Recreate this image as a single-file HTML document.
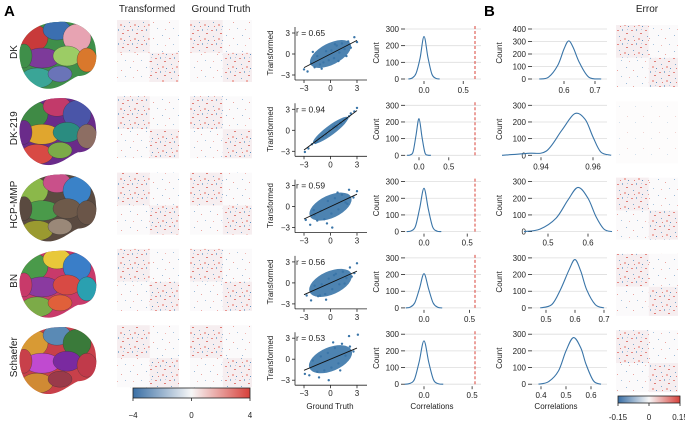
<!DOCTYPE html>
<html><head><meta charset="utf-8"><style>
html,body{margin:0;padding:0;background:#fff;}
svg{display:block;font-family:"Liberation Sans",sans-serif;}
</style></head><body>
<svg id="fig" width="685" height="426" viewBox="0 0 685 426" xmlns="http://www.w3.org/2000/svg">
<defs>
<linearGradient id="cbA" x1="0" x2="1" y1="0" y2="0"><stop offset="0" stop-color="#3a6fa5"/><stop offset="0.5" stop-color="#f7f7f7"/><stop offset="1" stop-color="#d7403a"/></linearGradient>
<pattern id="dense" width="14" height="14" patternUnits="userSpaceOnUse">
<rect width="14" height="14" fill="#f6eef0"/>
<rect x="1" y="2" width="2" height="1" fill="#e58a85"/><rect x="6" y="1" width="1" height="2" fill="#8fb3d3"/>
<rect x="10" y="5" width="2" height="1" fill="#e07c76"/><rect x="3" y="8" width="1" height="1" fill="#7ea7cc"/>
<rect x="8" y="10" width="2" height="2" fill="#efb0ab"/><rect x="12" y="12" width="1" height="1" fill="#5f92c1"/>
<rect x="4" y="12" width="1" height="1" fill="#e47f78"/><rect x="11" y="1" width="1" height="1" fill="#b6cde3"/>
</pattern>
<pattern id="sparse" width="16" height="16" patternUnits="userSpaceOnUse">
<rect width="16" height="16" fill="#fbfafb"/>
<rect x="2" y="3" width="1" height="1" fill="#9bbad8"/><rect x="9" y="6" width="1" height="1" fill="#eba39e"/>
<rect x="13" y="12" width="1" height="1" fill="#a9c4de"/><rect x="5" y="13" width="1" height="1" fill="#f0b6b1"/>
</pattern>
<pattern id="faint" width="16" height="16" patternUnits="userSpaceOnUse">
<rect width="16" height="16" fill="#fdfcfc"/>
<rect x="3" y="4" width="1" height="1" fill="#f1d3d1"/><rect x="11" y="10" width="1" height="1" fill="#d3e0ec"/>
</pattern>
<clipPath id="brainClip"><path d="M8,42 C4,20 24,4 46,4 C66,2 84,14 84,34 C86,50 77,58 66,58 C56,62 46,74 30,70 C18,66 10,56 8,42 Z"/></clipPath>
</defs>
<g id="root"></g>
</svg>
<script>
// ---- data ----
const rowNames = ["DK","DK-219","HCP-MMP","BN","Schaefer"];
const rValues = [0.65,0.94,0.59,0.56,0.53];
const scatterTicks = [-3,0,3];
const nullGrid = [-0.2,-0.15,-0.1,-0.05,0,0.05,0.1,0.15,0.2];
const nullCounts = [
 [0,6,35,125,255,130,30,4,0],
 [0,2,20,120,220,110,15,1,0],
 [0,4,30,140,260,135,28,3,0],
 [0,5,32,115,205,115,30,4,0],
 [0,4,28,135,260,130,25,3,0]
];
const nullTicks = [0.0,0.5];
const countTicksA = [0,100,200,300];
const bGrid = [
 [0.52,0.55,0.58,0.6,0.615,0.63,0.65,0.68,0.72],
 [0.925,0.935,0.942,0.948,0.953,0.957,0.96,0.963,0.967],
 [0.44,0.48,0.52,0.55,0.575,0.6,0.62,0.64,0.66],
 [0.48,0.52,0.55,0.58,0.6,0.62,0.64,0.67,0.7],
 [0.39,0.43,0.47,0.5,0.53,0.56,0.58,0.61,0.64]
];
const bCounts = [
 [0,15,110,240,305,250,130,15,0],
 [0,12,25,150,250,215,110,20,0],
 [0,15,80,190,265,200,90,15,0],
 [0,20,110,230,290,220,110,20,0],
 [0,15,80,200,280,215,120,20,0]
];
const bTicks = [[0.6,0.7],[0.94,0.96],[0.5,0.6],[0.5,0.6,0.7],[0.4,0.5,0.6]];
const bCountTicks = [[0,100,200,300,400],[0,100,200,300],[0,100,200,300],[0,100,200,300],[0,100,200,300]];
const scatterX = [
 [-3,-2.6,-2.2,-1.8,-1.5,-1.2,-0.8,-0.5,-0.2,0.1,0.4,0.7,1,1.3,1.6,2,2.3,2.7,3,-1,0.5,1.8,-2,0.9],
 [-2.9,-2.5,-2.1,-1.7,-1.3,-0.9,-0.5,-0.1,0.3,0.7,1.1,1.5,1.9,2.3,2.7,3,-1.5,0.5,1.2,2.1],
 [-2.8,-2.3,-1.9,-1.5,-1.1,-0.7,-0.3,0.1,0.5,0.9,1.3,1.7,2.1,2.6,3,-0.4,0.8,-1.8,1.9,0.2],
 [-2.7,-2.2,-1.8,-1.4,-1,-0.6,-0.2,0.2,0.6,1,1.4,1.8,2.2,2.7,3,-1.2,0.4,1.6,-0.5,2.4],
 [-2.9,-2.4,-2,-1.5,-1.1,-0.7,-0.3,0.1,0.5,0.9,1.3,1.7,2.1,2.6,3.1,-1.3,0.3,1.1,-0.2,2.2]
];
const scatterY = [
 [-2.2,-2.5,-1.3,-1.9,-0.3,-1.5,-1.2,0.4,-0.9,0.5,-0.6,1.2,0.2,1.5,0.7,1.8,0.9,2.4,1.7,-2.1,1.4,-0.3,0.3,-1],
 [-3.1,-2.6,-2,-1.8,-1.2,-0.9,-0.6,0,0.4,0.5,1.1,1.4,1.7,2.4,2.7,3.2,-1.6,0.6,1,2],
 [-1.9,-2.6,-0.5,-2,-0.6,-1.8,0.8,-1,1.2,-0.4,1.7,0.6,2.4,1.3,2.2,-2.4,2,-1.2,0.4,-3],
 [-1.8,-2.5,-0.4,-1.9,-0.2,-1.6,0.6,-0.9,1.3,-0.2,1.6,0.7,2.2,1.4,2.8,-1.8,1.1,-0.1,-2.4,0.9],
 [-2.1,-2.3,-0.2,-1.8,0.4,-1.6,0.9,-1.2,1.6,-0.6,2.2,0.5,3.3,1.1,3.5,-2.6,2.4,-1.6,-3,1.8]
];
const colorbarTicks = [-4,0,4];
const errorTicks = ["-0.15","0","0.15"];
const brainPalettes = [
 ["#3f8f4a","#c83a3a","#3b6fb0","#e7a3b2","#7d3a9a","#9ccc65","#d9782c","#3aa597","#6a74b8"],
 ["#6a2b8a","#3f8a45","#c23a6a","#4a55a8","#e0a62e","#2a8c80","#8d6e63","#d84a44","#7cab48"],
 ["#5a4a40","#8bb84a","#c9508a","#3a82c8","#4a9a4a","#6e5a4a","#6a5548","#9a9a30","#9a8878"],
 ["#c83a6a","#4a9a4a","#e8c83a","#3a7ec8","#8a3aa0","#d84a44","#2aa0b0","#7cab48","#e0603a"],
 ["#c8404a","#d89a34","#5a8ab5","#3a7a3a","#c04ad0","#7a2aa0","#c03a4a","#d08a34","#9a3a4a"]
];

// ---- helpers ----
const NS="http://www.w3.org/2000/svg";
const root=document.getElementById('root');
function mk(tag,attrs,parent){const e=document.createElementNS(NS,tag);for(const k in attrs)e.setAttribute(k,attrs[k]);(parent||root).appendChild(e);return e;}
function txt(s,x,y,size,anchor,parent,extra){const t=mk('text',Object.assign({x:x,y:y,'font-size':size,'text-anchor':anchor||'middle',fill:'#222'},extra||{}),parent);t.textContent=s;return t;}
function smooth(pts){let d='M'+pts[0][0]+','+pts[0][1];for(let i=0;i<pts.length-1;i++){const p0=pts[Math.max(i-1,0)],p1=pts[i],p2=pts[i+1],p3=pts[Math.min(i+2,pts.length-1)];const c1=[p1[0]+(p2[0]-p0[0])/6,p1[1]+(p2[1]-p0[1])/6],c2=[p2[0]-(p3[0]-p1[0])/6,p2[1]-(p3[1]-p1[1])/6];d+=' C'+c1[0].toFixed(2)+','+c1[1].toFixed(2)+' '+c2[0].toFixed(2)+','+c2[1].toFixed(2)+' '+p2[0].toFixed(2)+','+p2[1].toFixed(2);}return d;}
const blue="#3a75a8";

// titles
let t;
t=txt('A',4,16,15,'start',null,{'font-weight':'bold',fill:'#000'});

t=txt('B',484,16,15,'start',null,{'font-weight':'bold',fill:'#000'});

t=txt('Transformed',147,12,10);

t=txt('Ground Truth',221,12,10);

t=txt('Error',647,12,10);


for(let i=0;i<5;i++){
 const oy=i*76.3;
 const g=mk('g',{});
 
 
 // row label
 t=txt(rowNames[i],0,0,10,'middle',g,{transform:'translate(17,'+(oy+52)+') rotate(-90)'});
 
 // brain
 const bg=mk('g',{transform:'translate(12,'+(oy+18)+')'},g);
 
 const cg=mk('g',{'clip-path':'url(#brainClip)'},bg);
 const pal=brainPalettes[i];
 mk('rect',{x:0,y:0,width:90,height:80,fill:pal[0]},cg);
 const patches=[[20,20,16,14],[45,12,14,10],[65,20,14,14],[30,40,18,10],[55,38,14,10],[75,42,10,12],[25,60,16,10],[48,56,12,8],[12,38,8,12]];
 patches.forEach((p,k)=>mk('ellipse',{cx:p[0],cy:p[1],rx:p[2],ry:p[3],fill:pal[(k+1)%pal.length],stroke:'#333','stroke-width':0.3},cg));
 // matrices
 const mats=[[117,'transformed-matrix','dense','sparse'],[190,'ground-truth-matrix','dense','sparse'],[616,'error-matrix',i==1?'faint':'dense',i==1?'faint':'sparse']];
 mats.forEach(m=>{
  const mg=mk('g',{},g);
  
  const x0=m[0],y0=oy+(m[0]==616?25:20),s=62,h=s*0.53;
  mk('rect',{x:x0,y:y0,width:h,height:h,fill:'url(#'+m[2]+')'},mg);
  mk('rect',{x:x0+h,y:y0,width:s-h,height:h,fill:'url(#'+m[3]+')'},mg);
  mk('rect',{x:x0,y:y0+h,width:h,height:s-h,fill:'url(#'+m[3]+')'},mg);
  mk('rect',{x:x0+h,y:y0+h,width:s-h,height:s-h,fill:'url(#'+m[2]+')'},mg);
 });
 // scatter
 const sg=mk('g',{},g);
 
 const sx=v=>330.5+v*8.83, sy=v=>oy+54-v*7;
 const r=rValues[i];
 const ang=-Math.atan(r*7/8.83)*180/Math.PI;
 const cl=mk('ellipse',{cx:sx(0),cy:sy(0),rx:2.7*Math.sqrt(8.83*8.83+r*r*49)/Math.sqrt(1+r*r),ry:Math.max(3.5,14*Math.sqrt(1-r*r)),fill:blue,opacity:0.9,transform:'rotate('+ang+' '+sx(0)+' '+sy(0)+')'},sg);
 
 scatterX[i].forEach((xv,k)=>{const c=mk('circle',{cx:sx(xv),cy:sy(scatterY[i][k]),r:1.2,fill:blue},sg);
  });
 const ln=mk('line',{x1:sx(-3),y1:sy(-3*r),x2:sx(3),y2:sy(3*r),stroke:'#111','stroke-width':0.9},sg);
 
 mk('line',{x1:295,y1:oy+27,x2:295,y2:oy+80,stroke:'#222','stroke-width':0.8},sg);
 mk('line',{x1:295,y1:oy+80,x2:367,y2:oy+80,stroke:'#222','stroke-width':0.8},sg);
 scatterTicks.forEach(v=>{
  mk('line',{x1:292,y1:sy(v),x2:295,y2:sy(v),stroke:'#222','stroke-width':0.8},sg);
  txt(v<0?'\u2212'+(-v):String(v),290,sy(v)+3,8,'end',sg);
  mk('line',{x1:sx(v),y1:oy+80,x2:sx(v),y2:oy+83,stroke:'#222','stroke-width':0.8},sg);
  txt(v<0?'\u2212'+(-v):String(v),sx(v),oy+91,8,'middle',sg);
 });
 t=txt('r = '+r.toFixed(2),296,oy+36,8.5,'start',sg);
 
 t=txt('Transformed',0,0,8,'middle',sg,{transform:'translate(273,'+(oy+53)+') rotate(-90)'});
 
 // null distribution histogram
 const hg=mk('g',{},g);
 
 const zeroX=i==1?419:424, scaleX=(475-zeroX)/r;
 const hx=v=>zeroX+v*scaleX, hy=v=>oy+79-v*50/300;
 countTicksA.forEach(v=>{
  mk('line',{x1:405,y1:hy(v),x2:481,y2:hy(v),stroke:'#ddd','stroke-width':0.8},hg);
  mk('line',{x1:401,y1:hy(v),x2:405,y2:hy(v),stroke:'#222','stroke-width':0.8},hg);
  txt(String(v),399,hy(v)+3,8,'end',hg);
 });
 nullTicks.forEach(v=>{
  mk('line',{x1:hx(v),y1:oy+81,x2:hx(v),y2:oy+84,stroke:'#222','stroke-width':0.8},hg);
  txt(v.toFixed(1),hx(v),oy+93,8,'middle',hg);
 });
 const kp=mk('path',{d:smooth(nullGrid.map((x,k)=>[hx(x),hy(nullCounts[i][k])])),fill:'none',stroke:blue,'stroke-width':1.1},hg);
 
 const rl=mk('line',{x1:hx(r),y1:oy+26,x2:hx(r),y2:oy+81,stroke:'#d9433a','stroke-width':1,'stroke-dasharray':'3,2'},hg);
 
 t=txt('Count',0,0,8,'middle',hg,{transform:'translate(379,'+(oy+53)+') rotate(-90)'});
 
 // B histogram
 const bgp=mk('g',{},g);
 
 const bt=bTicks[i];
 const bpx=[[564,595],[541,593],[548,588],[546,575],[541,566]][i];
 const bx=v=>bpx[0]+(v-bt[0])*(bpx[1]-bpx[0])/(bt[1]-bt[0]);
 const topMax=bCountTicks[i][bCountTicks[i].length-1];
 const by=v=>oy+79-v*50/topMax;
 bCountTicks[i].forEach(v=>{
  mk('line',{x1:532,y1:by(v),x2:607,y2:by(v),stroke:'#ddd','stroke-width':0.8},bgp);
  mk('line',{x1:528,y1:by(v),x2:532,y2:by(v),stroke:'#222','stroke-width':0.8},bgp);
  txt(String(v),526,by(v)+3,8,'end',bgp);
 });
 bt.forEach(v=>{
  mk('line',{x1:bx(v),y1:oy+81,x2:bx(v),y2:oy+84,stroke:'#222','stroke-width':0.8},bgp);
  txt(String(v),bx(v),oy+93,8,'middle',bgp);
 });
 const bp=mk('path',{d:smooth(bGrid[i].map((x,k)=>[bx(x),by(bCounts[i][k])])),fill:'none',stroke:blue,'stroke-width':1.1},bgp);
 
 t=txt('Count',0,0,8,'middle',bgp,{transform:'translate(502,'+(oy+53)+') rotate(-90)'});
 
}
// x labels
t=txt('Ground Truth',330,409,8);
t=txt('Correlations',432,409,8);
t=txt('Correlations',556,409,8);
// colorbars
const cb1=mk('g',{});
mk('rect',{x:133,y:388,width:117,height:10,fill:'url(#cbA)',stroke:'#222','stroke-width':0.8},cb1);
colorbarTicks.forEach((v,k)=>{const x=133+k*58.5;mk('line',{x1:x,y1:398,x2:x,y2:401,stroke:'#222','stroke-width':0.8},cb1);txt(v<0?'\u2212'+(-v):String(v),x,418,8,'middle',cb1);});
const cb2=mk('g',{});
mk('rect',{x:618,y:396,width:62,height:7,fill:'url(#cbA)',stroke:'#222','stroke-width':0.8},cb2);
errorTicks.forEach((v,k)=>{const x=618+k*31;mk('line',{x1:x,y1:403,x2:x,y2:406,stroke:'#222','stroke-width':0.8},cb2);txt(v,x,420,8,'middle',cb2);});
</script>
</body></html>
